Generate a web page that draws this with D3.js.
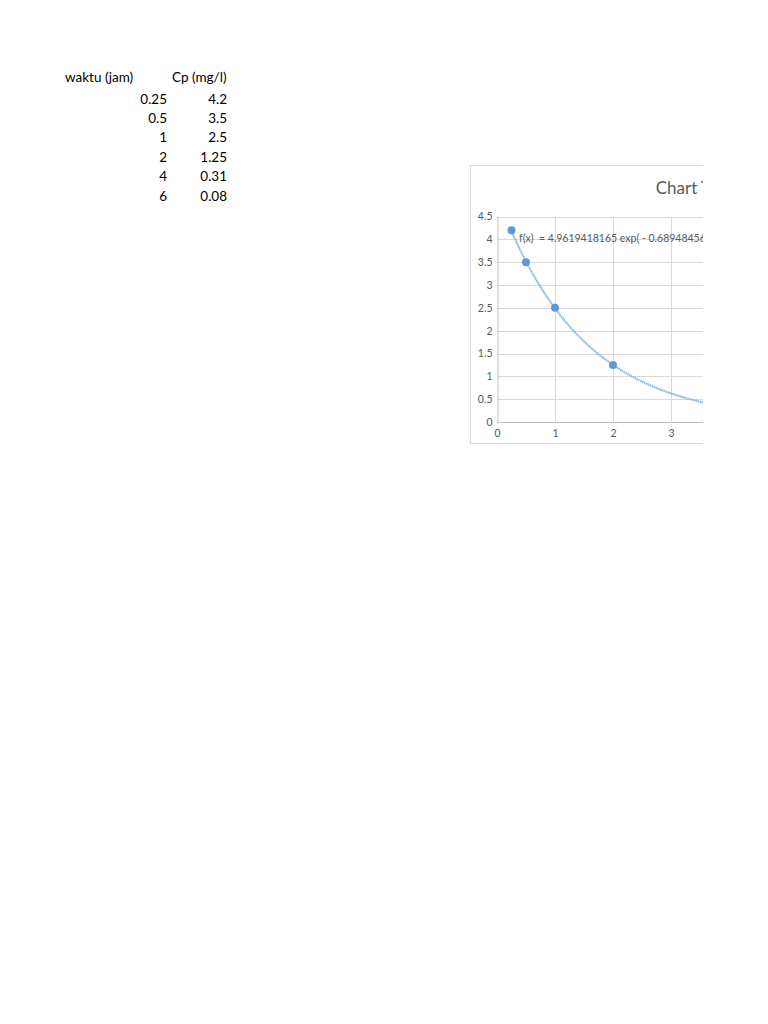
<html>
<head>
<meta charset="utf-8">
<style>
    body {
        margin: 0;
        background: #ffffff;
        font-family: Lato, "Open Sans", sans-serif;
    }
    svg { display: block; }
</style>
</head>
<body>
<svg id="page"></svg>
<script src="https://d3js.org/d3.v7.min.js"></script>
<script>
    // data from the sheet
    let headers = ["waktu (jam)", "Cp (mg/l)"];
    let waktu = [0.25, 0.5, 1, 2, 4, 6];
    let cp = [4.2, 3.5, 2.5, 1.25, 0.31, 0.08];
    let waktuLabels = ["0.25", "0.5", "1", "2", "4", "6"];
    let cpLabels = ["4.2", "3.5", "2.5", "1.25", "0.31", "0.08"];

    // chart axes + trendline label
    let xTicks = [0, 1, 2, 3, 4, 5, 6, 7];
    let yTicks = [0, 0.5, 1, 1.5, 2, 2.5, 3, 3.5, 4, 4.5];
    let chartTitle = "Chart Title";
    let trendA = 4.9619418165;
    let trendB = 0.6894845672;
    let trendLabel = "f(x)  = 4.9619418165 exp( - 0.6894845672 x )";

    let svg = d3.select("#page").attr("width", 768).attr("height", 1024);

    function drawTable() {
        let g = svg.append("g")
            .style("font-size", "13.5px")
            .style("fill", "#000");

        g.append("text").attr("x", 65).attr("y", 82).text(headers[0]);
        g.append("text").attr("x", 172).attr("y", 82).text(headers[1]);

        let rowY = d3.scaleLinear().domain([0, 5]).range([103.5, 200.5]);

        g.selectAll(".c1").data(waktuLabels).enter().append("text")
            .attr("x", 167).attr("y", (d, i) => rowY(i))
            .attr("text-anchor", "end").text(d => d);

        g.selectAll(".c2").data(cpLabels).enter().append("text")
            .attr("x", 227).attr("y", (d, i) => rowY(i))
            .attr("text-anchor", "end").text(d => d);
    }

    function drawChart() {
        // the chart object runs off the right side of the sheet view
        let frame = {x: 470, y: 165, width: 450, height: 278};
        let visibleRight = 703;

        svg.append("clipPath").attr("id", "view")
            .append("rect")
            .attr("x", 0).attr("y", 0)
            .attr("width", visibleRight).attr("height", 1024);

        let chart = svg.append("g").attr("clip-path", "url(#view)");

        chart.append("rect")
            .attr("x", frame.x + 0.5).attr("y", frame.y + 0.5)
            .attr("width", frame.width).attr("height", frame.height)
            .attr("fill", "#fff")
            .attr("stroke", "#d9d9d9");

        chart.append("text")
            .attr("x", frame.x + frame.width / 2)
            .attr("y", 194)
            .attr("text-anchor", "middle")
            .style("font-size", "17px")
            .style("fill", "#595959")
            .text(chartTitle);

        let xScale = d3.scaleLinear().domain([0, 7]).range([497, 903]);
        let yScale = d3.scaleLinear().domain([0, 4.5]).range([422, 216.5]);

        // only the ticks inside the visible part of the sheet
        let shownX = xTicks.filter(d => xScale(d) < visibleRight);

        // gridlines
        chart.selectAll(".vgrid").data(xTicks.slice(1)).enter().append("line")
            .attr("x1", d => Math.round(xScale(d)) + 0.5)
            .attr("x2", d => Math.round(xScale(d)) + 0.5)
            .attr("y1", yScale(4.5)).attr("y2", yScale(0))
            .attr("stroke", "#d9d9d9");

        chart.selectAll(".hgrid").data(yTicks.slice(1)).enter().append("line")
            .attr("x1", xScale(0)).attr("x2", xScale(7))
            .attr("y1", d => Math.round(yScale(d)) + 0.5)
            .attr("y2", d => Math.round(yScale(d)) + 0.5)
            .attr("stroke", "#d9d9d9");

        // axes
        let fmt = d => String(d);
        let xAxis = d3.axisBottom(xScale).tickValues(shownX).tickFormat(fmt).tickSize(0).tickPadding(7);
        let yAxis = d3.axisLeft(yScale).tickValues(yTicks).tickFormat(fmt).tickSize(0).tickPadding(5);

        let gx = chart.append("g").attr("transform", `translate(0, ${Math.round(yScale(0)) + 0.5})`).call(xAxis);
        let gy = chart.append("g").attr("transform", `translate(${Math.round(xScale(0)) + 0.5}, 0)`).call(yAxis);

        gx.select(".domain").attr("d", `M${xScale(0)},0H${xScale(7)}`);
        [gx, gy].forEach(a => {
            a.select(".domain").attr("stroke", "#bfbfbf");
            a.selectAll("text")
                .style("font-family", "Lato, sans-serif")
                .style("font-size", "10.5px")
                .style("fill", "#595959");
        });

        // exponential trendline from the label coefficients
        let trendX = d3.range(0, 241).map(i => 0.25 + i * (6 - 0.25) / 240);
        let line = d3.line()
            .x(d => xScale(d))
            .y(d => yScale(trendA * Math.exp(-trendB * d)));

        chart.append("path")
            .datum(trendX)
            .attr("d", line)
            .attr("fill", "none")
            .attr("stroke", "#7fb2e0")
            .attr("stroke-width", 2)
            .attr("stroke-dasharray", "1.5 0.6");

        // points
        chart.selectAll(".pt").data(waktu).enter().append("circle")
            .attr("cx", d => xScale(d))
            .attr("cy", (d, i) => yScale(cp[i]))
            .attr("r", 4)
            .attr("fill", "#5b9bd5");

        chart.append("text")
            .attr("x", 519).attr("y", 241.5)
            .style("font-size", "10.5px")
            .style("white-space", "pre")
            .style("fill", "#595959")
            .text(trendLabel);
    }

    drawTable();
    drawChart();
</script>
</body>
</html>
